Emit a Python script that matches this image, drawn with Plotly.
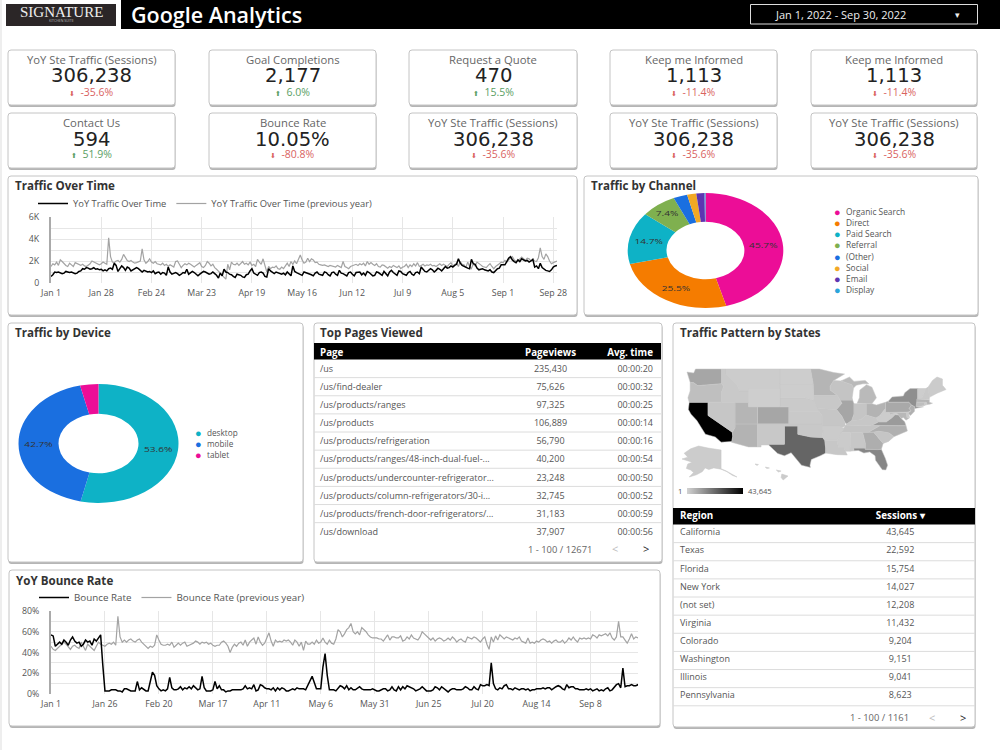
import math
import pandas as pd
import plotly.graph_objects as go

FONT = "Open Sans"
kpi_titles = ["YoY Ste Traffic (Sessions)", "Goal Completions", "Request a Quote", "Keep me Informed", "Keep me Informed",
              "Contact Us", "Bounce Rate", "YoY Ste Traffic (Sessions)", "YoY Ste Traffic (Sessions)", "YoY Ste Traffic (Sessions)"]
kpi_values = ["306,238", "2,177", "470", "1,113", "1,113", "594", "10.05%", "306,238", "306,238", "306,238"]
kpi_deltas = ["-35.6%", "6.0%", "15.5%", "-11.4%", "-11.4%", "51.9%", "-80.8%", "-35.6%", "-35.6%", "-35.6%"]

traffic_cur = [600,750,1000,950,1000,950,850,900,1050,1000,950,1000,900,850,900,1050,1100,1300,1250,1400,1350,1250,1300,1400,1250,1300,1200,1250,1100,1200,1100,
 1300,1350,1250,1800,1600,1050,1300,1550,1400,1150,1450,1350,1100,1200,1300,1400,1300,1100,1000,1150,1050,1000,1050,950,1100,850,950,1000,
 800,950,900,700,1450,1000,800,900,950,850,700,800,950,900,1250,800,950,1050,950,750,650,800,950,1050,1000,900,800,850,1000,850,700,
 450,900,650,1250,1000,950,800,750,600,500,800,750,700,550,500,750,800,1100,1300,900,800,700,950,1000,900,600,550,1300,1100,950,
 850,1000,950,850,800,900,750,1000,800,650,1550,1050,950,850,750,700,1000,950,850,800,750,650,900,1000,800,750,700,1000,950,750,650,
 950,1000,800,700,1150,900,850,750,650,950,1000,800,650,950,950,1000,750,900,700,1050,950,750,650,700,1000,950,800,700,1050,850,
 650,1000,1150,950,800,700,1100,1050,850,750,700,950,1050,800,700,950,1000,850,1450,1250,1050,1000,1150,1300,1200,1000,1150,1350,1250,1100,1300,
 1500,1350,1400,1550,1450,1600,1700,2200,1800,1600,1500,1400,1350,1300,2150,1750,1700,1350,1200,1250,1300,1200,1150,1100,1200,1000,950,1150,1300,1350,1650,
 1650,1650,1950,2250,2400,2100,1950,1850,2100,1950,2200,2100,2000,2050,1900,2000,2150,1450,1550,1300,1800,1400,1250,1150,1100,1050,1200,1450,1550,1600]
traffic_prev = [1500,1750,1650,1900,1600,2100,1950,1750,1600,1500,1800,1650,1500,1850,1750,1650,1600,1700,1550,1500,1600,1750,2000,1900,1800,1700,1650,1750,1900,1800,1700,
 4100,2400,1900,1850,2000,2050,1900,2150,2600,2300,2050,1950,2050,1900,1800,1850,1900,2000,3100,2100,1800,1950,2200,1900,1800,1950,1750,1700,
 1650,1800,1600,1700,1500,1650,1550,1450,1950,2000,1700,1400,1600,1750,1650,1800,1700,1550,1450,1600,1700,1850,1500,1400,1600,1950,1800,1550,1700,1400,1250,
 1100,900,700,500,350,1700,1200,1900,1700,1650,1800,1600,1750,1950,1700,1800,1650,1900,1600,1700,1500,2150,1900,1700,2200,1500,1000,1500,1300,1450,
 1400,1550,1300,1250,1450,1300,1600,1800,1500,1950,1700,2000,1750,2250,2550,2100,1800,1900,2250,1950,2200,2100,1850,1900,1700,1650,1600,1650,1550,1500,1600,
 1550,1500,1450,1600,1500,1400,1950,1500,1400,1300,1500,1550,1650,1700,1600,1750,1650,1800,1550,1950,1700,1850,1700,1600,1750,1500,1450,1650,1600,1500,
 1350,1500,1400,1600,1500,1400,1550,1300,1450,1500,1700,1400,1650,1500,1750,1550,1850,1500,1600,1700,1550,1650,1600,1700,1550,1600,1500,1650,1750,1600,1700,
 1600,1500,1700,1850,1550,1650,1800,1500,1950,1700,1650,1400,1900,1500,1300,1750,1550,1900,1800,1650,1500,1450,1400,1600,1750,1500,1300,1500,1600,1750,1900,
 1850,2050,1900,2100,2250,2400,2100,1950,2000,2150,2350,2200,2050,2250,2200,2000,2150,2000,1950,2300,3200,2400,2150,2650,2400,2000,1750,1850,1950,2000]
traffic_tick_dates = ["2022-01-01","2022-01-28","2022-02-24","2022-03-23","2022-04-19","2022-05-16","2022-06-12","2022-07-09","2022-08-05","2022-09-01","2022-09-28"]
traffic_tick_labels = ["Jan 1","Jan 28","Feb 24","Mar 23","Apr 19","May 16","Jun 12","Jul 9","Aug 5","Sep 1","Sep 28"]
traffic_y_ticks = [0,1000,2000,3000,4000,5000,6000]
traffic_y_labels = ["0","","2K","","4K","","6K"]

bounce_cur = [57,56,46,48,50,48,52,50,47,52,55,51,49,50,46,48,52,50,51,47,53,51,54,57,28,3,3,3,4,4,4,
 3,3,2,5,5,4,3,3,3,12,4,6,4,3,3,12,21,18,8,5,3,4,3,5,16,6,4,4,
 5,7,4,6,5,7,5,8,6,4,5,17,6,3,3,3,4,12,5,8,4,4,2,3,3,4,4,4,4,4,5,
 8,5,6,5,9,3,4,9,8,6,5,5,4,6,3,6,4,6,5,3,3,4,5,4,6,5,5,5,4,8,
 12,17,11,5,5,5,26,39,18,4,4,4,3,5,8,7,5,8,4,6,4,4,6,7,5,4,4,4,4,5,4,
 3,3,4,5,5,3,4,7,4,3,7,4,7,5,8,7,6,5,3,4,5,7,5,3,3,3,4,7,6,4,
 7,5,3,2,4,5,5,4,4,4,5,7,6,4,4,7,5,4,9,8,8,9,8,30,10,5,4,6,5,8,9,
 5,5,4,6,5,4,5,5,4,5,3,4,4,5,5,5,6,5,6,6,4,6,7,8,7,5,4,9,6,7,7,
 5,5,4,4,4,5,4,5,3,4,5,3,4,3,5,6,3,4,7,9,10,6,25,7,8,8,9,8,8,9,6,3]
bounce_prev = [46,43,42,44,46,48,50,48,45,43,46,47,45,44,50,46,42,48,46,44,42,46,50,48,47,46,48,49,48,50,47,
 75,55,50,52,50,52,53,51,50,52,53,50,48,46,44,46,45,47,57,52,48,47,47,48,47,50,45,47,
 49,47,49,50,46,47,48,49,51,50,48,50,49,50,48,49,47,46,47,47,50,51,49,46,40,45,48,46,49,50,47,
 52,46,50,52,54,48,55,50,47,49,55,59,51,46,52,50,51,50,52,51,52,50,47,52,50,46,50,42,51,48,
 48,50,48,52,49,50,54,50,48,52,49,48,53,62,60,55,58,62,64,68,60,58,60,57,64,62,60,57,55,54,54,
 54,53,53,51,54,57,52,55,55,54,54,56,51,52,55,53,57,54,53,52,55,60,58,56,54,52,54,51,53,54,
 53,51,52,54,52,55,53,50,52,53,51,50,55,54,53,55,54,52,50,53,55,48,43,55,50,56,52,57,55,53,55,
 54,53,52,54,53,55,51,50,49,54,49,50,49,51,50,52,53,52,50,51,49,51,52,50,50,52,49,51,54,52,55,
 52,50,54,53,54,53,54,53,57,56,54,57,56,57,58,56,59,54,52,55,70,55,55,52,49,53,58,53,55,54]
bounce_tick_dates = ["2022-01-01","2022-01-26","2022-02-20","2022-03-17","2022-04-11","2022-05-06","2022-05-31","2022-06-25","2022-07-20","2022-08-14","2022-09-08"]
bounce_tick_labels = ["Jan 1","Jan 26","Feb 20","Mar 17","Apr 11","May 6","May 31","Jun 25","Jul 20","Aug 14","Sep 8"]
bounce_y_ticks = [0,10,20,30,40,50,60,70,80]
bounce_y_labels = ["0%","","20%","","40%","","60%","","80%"]

channel_labels = ["Organic Search","Direct","Paid Search","Referral","(Other)","Social","Email","Display"]
channel_values = [45.7,25.5,14.7,7.4,2.9,1.9,1.7,0.2]
channel_colors = ["#ec0d97","#f57c00","#0eb2c6","#7fb04f","#1a6fe0","#f2a825","#5e35b1","#2ba5db"]
device_labels = ["desktop","mobile","tablet"]
device_values = [53.6,42.7,3.7]
device_colors = ["#0eb2c6","#1a6fe0","#ec0d97"]

page_names = ["/us","/us/find-dealer","/us/products/ranges","/us/products","/us/products/refrigeration",
 "/us/products/ranges/48-inch-dual-fuel-...","/us/products/undercounter-refrigerator...","/us/products/column-refrigerators/30-i...",
 "/us/products/french-door-refrigerators/...","/us/download"]
page_views = ["235,430","75,626","97,325","106,889","56,790","40,200","23,248","32,745","31,183","37,907"]
page_times = ["00:00:20","00:00:32","00:00:25","00:00:14","00:00:16","00:00:54","00:00:50","00:00:52","00:00:59","00:00:56"]
region_names = ["California","Texas","Florida","New York","(not set)","Virginia","Colorado","Washington","Illinois","Pennsylvania"]
region_sessions = ["43,645","22,592","15,754","14,027","12,208","11,432","9,204","9,151","9,041","8,623"]

state_codes = ["CA","TX","FL","NY","VA","CO","WA","IL","PA","AZ","GA","NC","NJ","OH","MA","MI","MN","UT","OR","MD","TN","WI","IN","MO","SC","NV","CT","AL","KY","LA","OK","KS","IA","AR","MS","NM","NE","ID","MT","ND","SD","WY","NH","ME","VT","RI","DE","WV","AK","HI"]
state_sessions = [43645,22592,15754,14027,11432,9204,9151,9041,8623,6500,7500,7000,7000,6500,6000,5000,6000,6000,4000,5500,3000,3000,2600,2500,2800,2500,4000,2300,2200,2200,2000,1800,2000,1500,1500,2000,1600,1800,1200,1000,1100,900,1800,1400,1000,1200,1500,1200,1300,1400]

# Simplified state outlines as lon/lat rings. The plotly basemap file cannot load offline.
state_rings = {
 "WA": [[(-124.7,48.4),(-123.2,48.2),(-122.8,49),(-117,49),(-117,46),(-119,45.9),(-121.2,45.7),(-122.3,45.6),(-123.2,46.2),(-124,46.3)]],
 "OR": [[(-124,46.3),(-123.2,46.2),(-122.3,45.6),(-121.2,45.7),(-119,45.9),(-117,46),(-116.5,45.5),(-117,44.3),(-117,42),(-124.2,42),(-124.5,43),(-124,44.5)]],
 "CA": [[(-124.2,42),(-120,42),(-120,39),(-114.6,35),(-114.5,34),(-114.7,32.7),(-117.1,32.5),(-118.4,33.8),(-120.6,34.5),(-121.9,36.6),(-122.5,37.8),(-123.8,39.3),(-124.4,40.4)]],
 "NV": [[(-120,42),(-114,42),(-114,36.2),(-114.6,35),(-120,39)]],
 "ID": [[(-117,49),(-116,49),(-116,48),(-114.4,46.6),(-113.5,45.7),(-113,44.5),(-111,44.5),(-111,42),(-117,42),(-117,44.3),(-116.5,45.5),(-117,46)]],
 "MT": [[(-116,49),(-104,49),(-104,45),(-111,45),(-111,44.5),(-113,44.5),(-113.5,45.7),(-114.4,46.6),(-116,48)]],
 "WY": [[(-111,45),(-104,45),(-104,41),(-111,41)]],
 "UT": [[(-114,42),(-111,42),(-111,41),(-109,41),(-109,37),(-114,37)]],
 "AZ": [[(-114,37),(-109,37),(-109,31.3),(-111,31.3),(-114.8,32.5),(-114.7,32.7),(-114.5,34),(-114.6,35),(-114,36.2)]],
 "CO": [[(-109,41),(-102,41),(-102,37),(-109,37)]],
 "NM": [[(-109,37),(-103,37),(-103,32),(-106.6,32),(-106.5,31.8),(-108.2,31.8),(-108.2,31.3),(-109,31.3)]],
 "ND": [[(-104,49),(-97.2,49),(-96.6,46),(-104,46)]],
 "SD": [[(-104,46),(-96.6,46),(-96.5,42.5),(-98.5,43),(-104,43)]],
 "NE": [[(-104,43),(-98.5,43),(-96.5,42.5),(-95.3,40),(-102,40),(-102,41),(-104,41)]],
 "KS": [[(-102,40),(-95.3,40),(-94.6,39),(-94.6,37),(-102,37)]],
 "OK": [[(-103,37),(-94.6,37),(-94.4,35.4),(-94.5,33.7),(-97,33.8),(-100,34.5),(-100,36.5),(-103,36.5)]],
 "TX": [[(-103,36.5),(-100,36.5),(-100,34.5),(-97,33.8),(-94.5,33.7),(-94,33),(-93.8,31),(-93.8,29.7),(-95,29),(-97,28),(-97.3,26.5),(-97.2,25.9),(-99.2,26.5),(-100.5,28.5),(-101.5,29.8),(-103,29),(-104.5,29.6),(-106.5,31.8),(-106.6,32),(-103,32)]],
 "MN": [[(-97.2,49),(-95.2,49),(-92,48.3),(-89.6,48),(-92,46.7),(-92.8,45.5),(-92.8,44.7),(-91.2,43.5),(-96.5,43.5),(-96.5,45.3),(-96.6,46)]],
 "IA": [[(-96.5,43.5),(-91.2,43.5),(-90.2,41.8),(-91.4,40.4),(-95.8,40.6),(-96.5,42.5)]],
 "MO": [[(-95.8,40.6),(-91.4,40.4),(-90.2,38.8),(-89.5,37.3),(-89.5,36.5),(-90.3,36),(-90.4,36.5),(-94.6,36.5),(-94.6,39),(-95.3,40)]],
 "AR": [[(-94.6,36.5),(-90.4,36.5),(-90.3,36),(-89.7,36),(-91.2,33),(-94,33),(-94.5,33.7),(-94.4,35.4)]],
 "LA": [[(-94,33),(-91.2,33),(-91,31),(-89.7,31),(-89.4,30.2),(-89,29.2),(-91.3,29.3),(-93.8,29.7),(-93.8,31)]],
 "WI": [[(-92,46.7),(-90.4,46.6),(-88,45.8),(-87.6,45.1),(-87.9,43),(-87.8,42.5),(-90.6,42.5),(-91.2,43.5),(-92.8,44.7),(-92.8,45.5)]],
 "IL": [[(-90.6,42.5),(-87.8,42.5),(-87.5,41.7),(-87.5,39.3),(-88,37.8),(-89.1,37),(-89.5,37.3),(-90.2,38.8),(-91.4,40.4),(-90.2,41.8)]],
 "MI": [[(-86.8,41.8),(-84.8,41.7),(-83.5,41.7),(-82.5,43),(-82.9,44),(-83.5,45.3),(-84.7,45.8),(-86.2,44.7),(-86.3,43)],
        [(-90.4,46.6),(-88.5,47.4),(-87.5,46.5),(-85,46.7),(-84.2,46),(-85.5,46),(-87,45.7),(-87.6,45.1),(-88,45.8)]],
 "IN": [[(-87.5,41.7),(-84.8,41.7),(-84.8,39.1),(-86,38),(-88,37.8),(-87.5,39.3)]],
 "OH": [[(-84.8,41.7),(-83.5,41.7),(-82.5,41.4),(-80.5,42),(-80.5,40.6),(-81.7,39),(-82.6,38.4),(-84.8,39.1)]],
 "KY": [[(-89.1,37),(-88,37.8),(-86,38),(-84.8,39.1),(-82.6,38.4),(-82,37.5),(-83.7,36.6),(-89.5,36.5)]],
 "TN": [[(-90.3,35),(-89.7,36),(-89.5,36.5),(-83.7,36.6),(-81.7,36.6),(-84.3,35)]],
 "MS": [[(-91.2,33),(-90.3,35),(-88.2,35),(-88.4,30.2),(-89.4,30.2),(-89.7,31),(-91,31)]],
 "AL": [[(-88.2,35),(-85.6,35),(-85,32.3),(-85,31),(-87.6,31),(-87.5,30.3),(-88.4,30.2)]],
 "GA": [[(-85.6,35),(-83.1,35),(-81,32.2),(-81.4,30.7),(-82.2,30.6),(-85,30.7),(-85,32.3)]],
 "FL": [[(-87.6,31),(-85,31),(-85,30.7),(-82.2,30.6),(-81.4,30.7),(-80.5,28.3),(-80,26.5),(-80.4,25.2),(-81.2,25.3),(-82.7,27.8),(-82.8,29),(-84,30),(-85.3,29.7),(-86.5,30.4),(-87.5,30.3)]],
 "SC": [[(-83.1,35),(-82,35.2),(-81,35.1),(-79.7,34.8),(-78.6,33.9),(-79.8,32.7),(-81,32.2)]],
 "NC": [[(-84.3,35),(-83.1,35),(-82,35.2),(-81,35.1),(-79.7,34.8),(-78.6,33.9),(-77,34.6),(-75.6,35.3),(-75.9,36.55),(-81.7,36.6)]],
 "VA": [[(-83.7,36.6),(-81.7,36.6),(-75.9,36.55),(-76.2,37.5),(-77,38.3),(-77.5,39.1),(-78.4,39.2),(-79,38.5),(-80.3,37.5),(-82,37.5)]],
 "WV": [[(-82.6,38.4),(-81.7,39),(-80.5,40.6),(-80.5,39.7),(-79.5,39.7),(-79.5,39.2),(-78.2,39.6),(-77.7,39.3),(-78.4,39.2),(-79,38.5),(-80.3,37.5),(-82,37.5)]],
 "MD": [[(-79.5,39.7),(-75.8,39.7),(-75.7,38.5),(-75.2,38.4),(-75.9,37.9),(-76.5,38.5),(-77,38.3),(-77.5,39.1),(-77.7,39.3),(-78.2,39.6),(-79.5,39.2)]],
 "DE": [[(-75.8,39.7),(-75.4,39.8),(-75.1,38.5),(-75.7,38.5)]],
 "PA": [[(-80.5,42),(-79.8,42.3),(-79.8,42),(-75.3,42),(-74.7,41.4),(-75.2,40.6),(-74.8,40.1),(-75.4,39.8),(-80.5,39.7)]],
 "NJ": [[(-74.7,41.4),(-74,41),(-74,40),(-74.9,39),(-75.5,39.5),(-74.8,40.1),(-75.2,40.6)]],
 "NY": [[(-79.8,42.3),(-79,43.2),(-76.5,43.4),(-76.2,44.1),(-75,45),(-73.3,45),(-73.3,42.7),(-73.5,42),(-73.5,41),(-72,41),(-74,40.6),(-74,41),(-74.7,41.4),(-75.3,42),(-79.8,42)]],
 "CT": [[(-73.5,42),(-71.8,42),(-71.8,41.3),(-73.7,41)]],
 "RI": [[(-71.8,42),(-71.4,42),(-71.2,41.5),(-71.8,41.3)]],
 "MA": [[(-73.5,42.75),(-71.3,42.7),(-70.7,42.6),(-70.7,42),(-70,41.8),(-70.6,41.6),(-71.2,41.5),(-71.4,42),(-73.5,42)]],
 "VT": [[(-73.3,45),(-71.5,45),(-72.4,42.75),(-73.3,42.75)]],
 "NH": [[(-71.5,45),(-71,45.3),(-70.7,43.1),(-70.7,42.7),(-72.4,42.75)]],
 "ME": [[(-71,45.3),(-70,46.7),(-69,47.4),(-67.8,47),(-67.8,45.7),(-67,44.8),(-69,44),(-70.7,43.1)]],
 "AK": [[(-168,65.6),(-164,66.5),(-166.5,68.3),(-162,70.2),(-156.5,71.3),(-150,70.5),(-141,69.7),(-141,60.3),(-137.5,59),(-130,55),(-133,56),(-137,58.5),(-141,60),(-146,60.8),(-149.5,59.8),(-152,60.8),(-154,58.5),(-158,56.5),(-163,55),(-160,58),(-162,59.5),(-165,60.5),(-164,63),(-161,64)]],
 "HI": [[(-155.9,20.2),(-155,19.8),(-155.7,19),(-156,19.5)],[(-156.7,21),(-156,20.8),(-156.4,20.6)],[(-158.3,21.6),(-157.7,21.4),(-158.1,21.3)],[(-159.8,22.2),(-159.3,22.1),(-159.5,21.9)]],
}

def X(p): return p / 1000
def Y(p): return 1 - p / 750

def mercator(lon, lat):
    return lon, math.degrees(math.log(math.tan(math.radians(45 + lat / 2))))

def fit(rings, box, proj):
    pts = [proj(*p) for ring in rings for p in ring]
    x0, x1 = min(p[0] for p in pts), max(p[0] for p in pts)
    y0, y1 = min(p[1] for p in pts), max(p[1] for p in pts)
    def tf(lon, lat):
        a, b = proj(lon, lat)
        return box[0] + (a - x0) / (x1 - x0) * (box[2] - box[0]), box[3] - (b - y0) / (y1 - y0) * (box[3] - box[1])
    return tf

conus = [rg for k, v in state_rings.items() if k not in ("AK", "HI") for rg in v]
map_tf = fit(conus, (687, 369, 946, 470), mercator)
ak_tf = fit(state_rings["AK"], (682, 446, 737, 477), mercator)
hi_tf = fit(state_rings["HI"], (755, 464, 788, 480), mercator)

def grey(v, zmax=43645, low=210):
    g = round(low * (1 - v / zmax))
    return f"rgb({g},{g},{g})"

fig = go.Figure()
shapes, notes = [], []

def rrect(x0, y0, x1, y1, r=3):
    a, b, c, d = X(x0), X(x1), Y(y0), Y(y1)
    rx, ry = r / 1000, r / 750
    return (f"M {a+rx} {c} L {b-rx} {c} Q {b} {c} {b} {c-ry} L {b} {d+ry} Q {b} {d} {b-rx} {d} "
            f"L {a+rx} {d} Q {a} {d} {a} {d+ry} L {a} {c-ry} Q {a} {c} {a+rx} {c} Z")

def card(x0, y0, x1, y1):
    shapes.append(dict(type="path", path=rrect(x0 + .5, y0 + 2, x1 + .5, y1 + 2), xref="paper", yref="paper", fillcolor="#b5b5b5", line_width=0, layer="below"))
    shapes.append(dict(type="path", path=rrect(x0, y0, x1, y1), xref="paper", yref="paper", fillcolor="white", line=dict(color="#c4c4c4", width=1), layer="below"))

def rect(x0, y0, x1, y1, fill, line=None, layer="below"):
    shapes.append(dict(type="rect", x0=X(x0), x1=X(x1), y0=Y(y0), y1=Y(y1), xref="paper", yref="paper", fillcolor=fill,
                       line=dict(color=line or fill, width=1 if line else 0), layer=layer))

def hline(x0, x1, y, color="#dcdcdc"):
    shapes.append(dict(type="line", x0=X(x0), x1=X(x1), y0=Y(y), y1=Y(y), xref="paper", yref="paper", line=dict(color=color, width=1), layer="above"))

def note(text, x, y, size, color="#444", anchor="center", bold=False, family=FONT, weight=None):
    f = dict(size=size, color=color, family=family)
    if weight: f["weight"] = weight
    notes.append(dict(text=f"<b>{text}</b>" if bold else text, x=X(x), y=Y(y), xref="paper", yref="paper", showarrow=False,
                      xanchor=anchor, yanchor="middle", font=f, borderpad=0, borderwidth=0))

# header
rect(0, 0, 2, 750, "#eeeeee")
rect(121, 0, 1000, 29, "#000000")
rect(6, 4, 116, 26, "#2b2627")
note("SIGNATURE", 61, 12, 15, "#eeeeee", family="Liberation Serif")
note("KITCHEN SUITE", 61, 20.5, 3.5, "#bbbbbb")
note("Google Analytics", 131, 14.5, 21.5, "#ffffff", "left", weight=600)
rect(750.5, 4.5, 977.5, 24, "#000000", "#dddddd")
note("Jan 1, 2022 - Sep 30, 2022", 840, 14.5, 11, "#eeeeee")
note("▾", 957, 14, 9, "#eeeeee")

# KPI cards
card_cols = [(8, 175), (209, 376), (409, 577), (610, 777), (811, 977)]
card_rows = [50, 113]
for i, (t, v, d) in enumerate(zip(kpi_titles, kpi_values, kpi_deltas)):
    x0, x1 = card_cols[i % 5]
    y0 = card_rows[i // 5]
    cx = (x0 + x1) / 2
    card(x0, y0, x1, y0 + 55)
    neg = d.startswith("-")
    col = "#d9635f" if neg else "#5a9e63"
    note(t, cx, y0 + 9.5, 11.3, "#666666")
    note(v, cx, y0 + 26, 19.6, "#222222", family="DejaVu Sans")
    note(f'<span style="font-size:7px">{"⬇" if neg else "⬆"}</span>  {d}', cx, y0 + 41.5, 10.5, col)

# panels
for b in [(8, 176, 577, 315), (584, 176, 978, 315), (8, 323, 303, 562), (314, 323, 662, 562), (673, 323, 975, 727), (9, 570, 660, 726)]:
    card(*b)
for t, x, y in [("Traffic Over Time", 15, 185.5), ("Traffic by Channel", 591, 185.5), ("Traffic by Device", 15, 333),
                ("Top Pages Viewed", 320, 333), ("Traffic Pattern by States", 680, 333), ("YoY Bounce Rate", 16, 580)]:
    note(t, x, y, 11.6, "#333333", "left", True)

# line charts
def axis_style(dom, ticks, labels):
    return dict(domain=dom, tickmode="array", tickvals=ticks, ticktext=labels, showgrid=True, gridcolor="#e6e6e6", gridwidth=1,
                tickfont=dict(size=8.8, color="#555555", family=FONT), ticks="", zeroline=False)

days = lambda vals: pd.date_range("2022-01-01", periods=len(vals))
end = "2022-09-30"
fig.add_trace(go.Scatter(x=days(traffic_prev), y=traffic_prev, mode="lines", name="YoY Traffic Over Time (previous year)", line=dict(color="#a3a3a3", width=1.2), xaxis="x", yaxis="y", legend="legend"))
fig.add_trace(go.Scatter(x=days(traffic_cur), y=traffic_cur, mode="lines", name="YoY Traffic Over Time", line=dict(color="#000000", width=1.5), xaxis="x", yaxis="y", legend="legend"))
fig.add_trace(go.Scatter(x=days(bounce_prev), y=bounce_prev, mode="lines", name="Bounce Rate (previous year)", line=dict(color="#a3a3a3", width=1.2), xaxis="x2", yaxis="y2", legend="legend2"))
fig.add_trace(go.Scatter(x=days(bounce_cur), y=bounce_cur, mode="lines", name="Bounce Rate", line=dict(color="#000000", width=1.5), xaxis="x2", yaxis="y2", legend="legend2"))

# donuts (stretched into ellipses after drawing, see post_script)
def square(cx, cy, r):
    return dict(x=[X(cx - r), X(cx + r)], y=[Y(cy + r), Y(cy - r)])

fig.add_trace(go.Pie(labels=channel_labels, values=channel_values, marker=dict(colors=channel_colors), hole=0.5, sort=False, direction="clockwise",
                     domain=square(705.5, 250.5, 57.5), showlegend=False, texttemplate="%{percent:.1%}", insidetextorientation="horizontal",
                     textposition=["inside"] * 4 + ["none"] * 4, textfont=dict(size=7.5, color="#333333", family=FONT)))
fig.add_trace(go.Pie(labels=device_labels, values=device_values, marker=dict(colors=device_colors), hole=0.5, sort=False, direction="clockwise",
                     domain=square(98.5, 443.5, 59.5), showlegend=False, texttemplate="%{percent:.1%}", insidetextorientation="horizontal",
                     textposition=["inside", "inside", "none"], textfont=dict(size=7.5, color="#333333", family=FONT)))

for i, (n, c) in enumerate(zip(channel_labels, channel_colors)):
    y = 211.5 + i * 11.15
    note("●", 837.5, y, 11, c)
    note(n, 846, y, 8.4, "#555555", "left")
for i, (n, c) in enumerate(zip(device_labels, device_colors)):
    y = 432.5 + i * 11.1
    note("●", 198.5, y, 11, c)
    note(n, 207, y, 8.2, "#555555", "left")

# tables: header band and rules are drawn behind / over a transparent table so text sits like the reference
CLEAR = "rgba(0,0,0,0)"
def hdr(vals, aligns):
    return dict(values=vals, fill=dict(color=CLEAR), align=aligns, font=dict(color="white", size=9.8, family=FONT, weight=700), height=16.5, line=dict(width=0))
def cells(vals, aligns):
    return dict(values=vals, fill=dict(color=CLEAR), align=aligns, font=dict(color="#555555", size=9, family=FONT), height=18.13, line=dict(width=0))

rect(314, 343, 661, 359.5, "#000000")
rect(673, 508, 975, 524.5, "#000000")
fig.add_trace(go.Table(domain=dict(x=[X(312), X(661)], y=[Y(539.5), Y(340.5)]), columnwidth=[190, 97, 62],
                       header=hdr(["Page", "Pageviews", "Avg.\u00a0time"], ["left", "center", "right"]),
                       cells=cells([page_names, page_views, page_times], ["left", "center", "right"])))
fig.add_trace(go.Table(domain=dict(x=[X(672), X(975)], y=[Y(703), Y(504)]), columnwidth=[155, 148],
                       header=hdr(["Region", "Sessions ▾"], ["left", "center"]),
                       cells=cells([region_names, region_sessions], ["left", "center"])))
for i in range(1, 10):
    hline(314, 661, 359.5 + i * 18.13)
    hline(673, 975, 524.5 + i * 18.13)
hline(673, 975, 524.5 + 10 * 18.13)
note("1 - 100 / 12671", 560, 549, 9.4, "#666666")
note("&lt;", 615, 548.5, 11, "#bbbbbb")
note("&gt;", 646, 548.5, 11, "#222222")
note("1 - 100 / 1161", 879, 717, 9.4, "#666666")
note("&lt;", 932, 717, 11, "#bbbbbb")
note("&gt;", 963, 717, 11, "#222222")

# map: state polygons coloured by sessions, drawn on an axis pair in page pixels
for code, val in zip(state_codes, state_sessions):
    tf = ak_tf if code == "AK" else hi_tf if code == "HI" else map_tf
    xs, ys = [], []
    for ring in state_rings[code]:
        pts = [tf(*p) for p in ring]
        pts.append(pts[0])
        xs += [p[0] for p in pts] + [None]
        ys += [p[1] for p in pts] + [None]
    fig.add_trace(go.Scatter(x=xs, y=ys, mode="lines", fill="toself", fillcolor=grey(val), line=dict(color="#c6c6c6", width=0.5),
                             name=code, text=f"{code}: {val:,}", hoverinfo="text", showlegend=False, xaxis="x3", yaxis="y3"))
fig.add_trace(go.Scatter(x=[None], y=[None], mode="markers", showlegend=False, xaxis="x3", yaxis="y3", hoverinfo="skip",
                         marker=dict(color=state_sessions, cmin=1, cmax=43645, colorscale=[[0, grey(0)], [1, "#000000"]], showscale=True,
                                     colorbar=dict(orientation="h", thickness=6, thicknessmode="pixels", len=56, lenmode="pixels", x=X(715), y=Y(491), xanchor="center", yanchor="middle",
                                                   showticklabels=False, outlinewidth=0, ticks="", xpad=0, ypad=0))))
note("1", 680, 491, 7.6, "#555555")
note("43,645", 748, 491, 7.6, "#555555", "left")

hidden = dict(visible=False, fixedrange=True)
fig.update_layout(
    width=1000, height=750, margin=dict(l=0, r=0, t=0, b=0, pad=0, autoexpand=False), paper_bgcolor="white", plot_bgcolor="rgba(0,0,0,0)",
    font=dict(family=FONT), shapes=shapes, annotations=notes,
    xaxis=dict(axis_style([X(51), X(557)], traffic_tick_dates, traffic_tick_labels), range=["2022-01-01", end], anchor="y", ticklabelstandoff=3),
    yaxis=dict(axis_style([Y(283), Y(217)], traffic_y_ticks, traffic_y_labels), range=[0, 6000], anchor="x", showline=True, linecolor="#aaaaaa", linewidth=2, ticklabelstandoff=8),
    xaxis2=dict(axis_style([X(51), X(638)], bounce_tick_dates, bounce_tick_labels), range=["2022-01-01", end], anchor="y2", ticklabelstandoff=3),
    yaxis2=dict(axis_style([Y(694), Y(611)], bounce_y_ticks, bounce_y_labels), range=[0, 80], anchor="x2", showline=True, linecolor="#aaaaaa", linewidth=2, ticklabelstandoff=8),
    xaxis3=dict(hidden, domain=[X(680), X(950)], range=[680, 950], anchor="y3"),
    yaxis3=dict(hidden, domain=[Y(485), Y(365)], range=[485, 365], anchor="x3"),
    legend=dict(orientation="h", x=X(33), y=Y(189), yanchor="top", font=dict(size=9.4, color="#555555", family=FONT), traceorder="reversed", bgcolor="rgba(0,0,0,0)"),
    legend2=dict(orientation="h", x=X(34), y=Y(583), yanchor="top", font=dict(size=9.8, color="#555555", family=FONT), traceorder="reversed", bgcolor="rgba(0,0,0,0)"),
)

post = """
document.body.style.margin = '0';
document.documentElement.style.overflow = 'hidden';
var gd = document.getElementById('{plot_id}');
function stretch() {
  var specs = [[705.5, 250.5, 155.6 / 115], [98.5, 443.5, 160 / 119]];
  gd.querySelectorAll('.pielayer .trace').forEach(function (t, i) {
    var s = specs[i];
    if (s) t.setAttribute('transform', 'translate(' + s[0] + ',' + s[1] + ') scale(' + s[2] + ',1) translate(' + (-s[0]) + ',' + (-s[1]) + ')');
  });
}
stretch();
gd.on('plotly_afterplot', stretch);
"""
fig.write_html("out.html", post_script=post, config=dict(displayModeBar=False))
